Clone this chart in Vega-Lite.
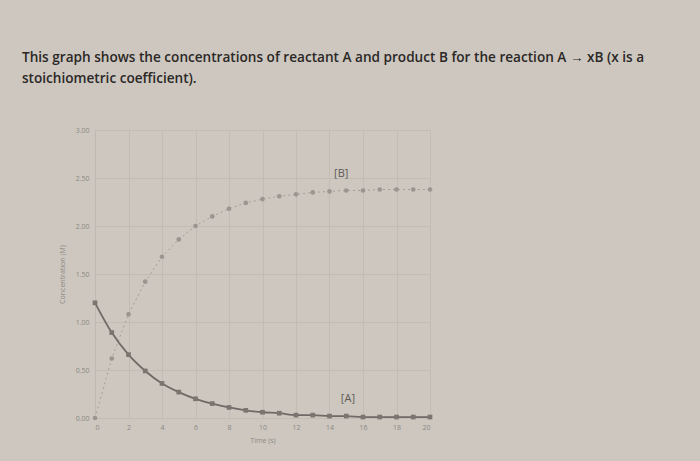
{
  "$schema": "https://vega.github.io/schema/vega-lite/v6.json",
  "width": 335,
  "height": 288,
  "autosize": "none",
  "padding": {"left": 95, "top": 130, "right": 270, "bottom": 43},
  "background": "#cdc7c0",
  "title": {
    "text": ["This graph shows the concentrations of reactant A and product B for the reaction A → xB (x is a", "stoichiometric coefficient)."],
    "anchor": "start",
    "frame": "group",
    "dx": -73,
    "offset": 40,
    "font": "Open Sans",
    "fontSize": 13.6,
    "fontWeight": 600,
    "color": "#2b2826",
    "lineHeight": 21
  },
  "config": {
    "view": {"stroke": null},
    "axis": {
      "labelFont": "Open Sans",
      "titleFont": "Open Sans",
      "labelFontSize": 7,
      "titleFontSize": 7,
      "labelColor": "#8c8781",
      "titleColor": "#8c8781",
      "titleFontWeight": "normal",
      "gridColor": "#c2bcb5",
      "domainColor": "#bfb9b2",
      "ticks": false
    }
  },
  "datasets": {
    "conc": [
      {"t": 0, "species": "A", "conc": 1.20}, {"t": 1, "species": "A", "conc": 0.89},
      {"t": 2, "species": "A", "conc": 0.66}, {"t": 3, "species": "A", "conc": 0.49},
      {"t": 4, "species": "A", "conc": 0.36}, {"t": 5, "species": "A", "conc": 0.27},
      {"t": 6, "species": "A", "conc": 0.20}, {"t": 7, "species": "A", "conc": 0.15},
      {"t": 8, "species": "A", "conc": 0.11}, {"t": 9, "species": "A", "conc": 0.08},
      {"t": 10, "species": "A", "conc": 0.06}, {"t": 11, "species": "A", "conc": 0.05},
      {"t": 12, "species": "A", "conc": 0.03}, {"t": 13, "species": "A", "conc": 0.03},
      {"t": 14, "species": "A", "conc": 0.02}, {"t": 15, "species": "A", "conc": 0.02},
      {"t": 16, "species": "A", "conc": 0.01}, {"t": 17, "species": "A", "conc": 0.01},
      {"t": 18, "species": "A", "conc": 0.01}, {"t": 19, "species": "A", "conc": 0.01},
      {"t": 20, "species": "A", "conc": 0.01},
      {"t": 0, "species": "B", "conc": 0.00}, {"t": 1, "species": "B", "conc": 0.62},
      {"t": 2, "species": "B", "conc": 1.08}, {"t": 3, "species": "B", "conc": 1.42},
      {"t": 4, "species": "B", "conc": 1.68}, {"t": 5, "species": "B", "conc": 1.86},
      {"t": 6, "species": "B", "conc": 2.00}, {"t": 7, "species": "B", "conc": 2.10},
      {"t": 8, "species": "B", "conc": 2.18}, {"t": 9, "species": "B", "conc": 2.24},
      {"t": 10, "species": "B", "conc": 2.28}, {"t": 11, "species": "B", "conc": 2.31},
      {"t": 12, "species": "B", "conc": 2.33}, {"t": 13, "species": "B", "conc": 2.35},
      {"t": 14, "species": "B", "conc": 2.36}, {"t": 15, "species": "B", "conc": 2.37},
      {"t": 16, "species": "B", "conc": 2.37}, {"t": 17, "species": "B", "conc": 2.38},
      {"t": 18, "species": "B", "conc": 2.38}, {"t": 19, "species": "B", "conc": 2.38},
      {"t": 20, "species": "B", "conc": 2.38}
    ],
    "labels": [
      {"t": 14.7, "conc": 2.54, "label": "[B]"},
      {"t": 15.1, "conc": 0.2, "label": "[A]"}
    ]
  },
  "data": {"name": "conc"},
  "encoding": {
    "x": {
      "field": "t", "type": "quantitative", "title": "Time (s)",
      "scale": {"domain": [0, 20], "nice": false},
      "axis": {"values": [0, 2, 4, 6, 8, 10, 12, 14, 16, 18, 20], "domain": false, "titlePadding": 6, "labelPadding": 5}
    },
    "y": {
      "field": "conc", "type": "quantitative", "title": "Concentration (M)",
      "scale": {"domain": [0, 3], "nice": false},
      "axis": {"values": [0, 0.5, 1, 1.5, 2, 2.5, 3], "format": ".2f", "titlePadding": 10, "labelPadding": 6}
    }
  },
  "layer": [
    {
      "transform": [{"filter": "datum.species == 'B'"}],
      "mark": {"type": "line", "color": "#a39e98", "strokeWidth": 1, "strokeDash": [2, 3], "point": {"filled": true, "color": "#9a958f", "size": 22}}
    },
    {
      "transform": [{"filter": "datum.species == 'A'"}],
      "mark": {"type": "line", "color": "#6f6a65", "strokeWidth": 1.8, "interpolate": "monotone", "point": {"filled": true, "shape": "square", "color": "#7a756f", "size": 22}}
    },
    {
      "data": {"name": "labels"},
      "mark": {"type": "text", "font": "Open Sans", "fontSize": 11, "color": "#5f5a55"},
      "encoding": {"text": {"field": "label", "type": "nominal"}}
    }
  ]
}
